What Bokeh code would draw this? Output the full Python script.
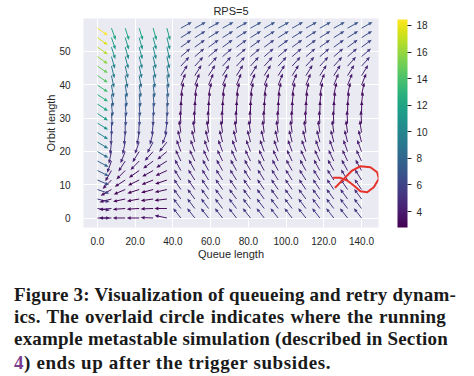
import math
from bokeh.plotting import figure
from bokeh.models import (ColumnDataSource, LinearColorMapper, ColorBar, FixedTicker,
                          PrintfTickFormatter, Div, Range1d)
from bokeh.layouts import column
from bokeh.palettes import Viridis256
from bokeh.transform import transform
from bokeh.embed import file_html
from bokeh.resources import INLINE

# ---------------- data ----------------
title_text = "RPS=5"
x_label = "Queue length"
y_label = "Orbit length"
x_ticks = [0, 20, 40, 60, 80, 100, 120, 140]
y_ticks = [0, 10, 20, 30, 40, 50]
cbar_ticks = [4, 6, 8, 10, 12, 14, 16, 18]
mag_low, mag_high = 2.8, 18.45

grid_x = [0.0, 7.4, 14.7, 22.1, 29.5, 36.8, 44.2, 51.6, 58.9, 66.3, 73.7, 81.1,
          88.4, 95.8, 103.2, 110.5, 117.9, 125.3, 132.6, 140.0]
grid_y = [0.0, 2.85, 5.7, 8.55, 11.4, 14.25, 17.1, 19.95, 22.8, 25.65, 28.5,
          31.35, 34.2, 37.05, 39.9, 42.75, 45.6, 48.45, 51.3, 54.15, 57.0]

# direction (degrees, screen) of arrows in the six left columns, bottom row first
left_angle = [
    [0, -8, -14, -19, -23, -26, -28, -30, -31, -32, -32, -33, -33, -33, -34, -34, -34, -35, -35, -35, -35],
    [180, 185, 195, 210, 225, 240, 250, 258, 264, 268, 271, 274, 276, 278, 280, 282, 284, 286, 288, 289, 290],
    [180, 184, 192, 203, 213, 225, 237, 248, 258, 265, 270, 273, 275, 277, 279, 281, 283, 285, 286, 287, 288],
    [180, 183, 190, 198, 206, 215, 226, 238, 250, 260, 268, 272, 274, 276, 278, 280, 282, 284, 285, 286, 287],
    [178, 182, 188, 195, 202, 209, 217, 228, 242, 255, 265, 270, 273, 275, 277, 279, 281, 283, 284, 285, 286],
    [168, 180, 187, 193, 199, 205, 212, 220, 232, 248, 262, 269, 272, 274, 276, 278, 280, 282, 283, 284, 285],
]
left_mag = [
    [4.0, 4.5, 5.2, 5.9, 6.6, 7.3, 8.0, 8.7, 9.4, 10.1, 10.8, 11.5, 12.2, 12.9, 13.6, 14.3, 15.0, 15.8, 16.7, 17.6, 18.45],
    [3.4, 3.3, 3.3, 3.4, 3.6, 3.9, 4.3, 4.7, 5.1, 5.6, 6.1, 6.6, 7.1, 7.7, 8.3, 8.9, 9.5, 10.1, 10.8, 11.5, 12.2],
    [3.3, 3.1, 3.0, 3.1, 3.3, 3.6, 4.0, 4.4, 4.9, 5.4, 5.9, 6.4, 6.9, 7.5, 8.1, 8.7, 9.3, 9.9, 10.6, 11.3, 12.0],
    [3.3, 3.0, 2.9, 2.9, 3.1, 3.4, 3.8, 4.2, 4.7, 5.2, 5.7, 6.2, 6.8, 7.4, 8.0, 8.6, 9.2, 9.8, 10.5, 11.2, 11.9],
    [3.4, 3.0, 2.8, 2.9, 3.0, 3.3, 3.7, 4.1, 4.6, 5.1, 5.6, 6.1, 6.7, 7.3, 7.9, 8.5, 9.1, 9.7, 10.4, 11.1, 11.8],
    [3.6, 3.2, 3.0, 3.0, 3.1, 3.3, 3.6, 4.0, 4.5, 5.0, 5.5, 6.0, 6.6, 7.2, 7.8, 8.4, 9.0, 9.6, 10.3, 11.0, 11.7],
]
# the fourteen right columns share one direction / magnitude per row
right_angle = [128, 127, 126, 124, 122, 119, 115, 110, 104, 98, 93, 89, 84, 77, 68, 58, 48, 41, 36, 32, 29]
right_mag = [5.4, 5.2, 5.0, 4.8, 4.6, 4.4, 4.2, 4.0, 3.8, 3.6, 3.4, 3.3, 3.3, 3.5, 3.9, 4.4, 5.0, 5.6, 6.1, 6.5, 6.9]

# hand-drawn red loop overlay
loop_x = [126.2, 130.6, 135.0, 139.4, 144.7, 148.3, 149.2, 146.5, 143.0, 139.4, 135.9, 132.4, 128.8, 125.3]
loop_y = [9.24, 11.76, 14.25, 15.54, 15.24, 13.74, 11.76, 9.24, 7.74, 8.04, 9.75, 11.25, 12.06, 12.06]

caption_lines = [
    "Figure 3: Visualization of queueing and retry dynam-",
    "ics. The overlaid circle indicates where the running",
    "example metastable simulation (described in Section",
    "4) ends up after the trigger subsides.",
]

# ---------------- figure ----------------
FW, FH = 295, 209
x0r, x1r = -7.42, 149.0
y0r, y1r = -2.85, 59.9
FONT = "Liberation Sans"
TXT = "#262626"

p = figure(frame_width=FW, frame_height=FH, x_range=Range1d(x0r, x1r), y_range=Range1d(y0r, y1r),
           output_backend="svg", toolbar_location=None, title=title_text,
           min_border_left=83, min_border_right=88, min_border_top=18, min_border_bottom=40)
p.title.align = "center"
p.title.text_font = FONT
p.title.text_font_size = "11px"
p.title.text_font_style = "normal"
p.title.text_color = TXT
p.title.standoff = 4
p.title.offset = 0
p.background_fill_color = "#EAEAF2"
p.border_fill_color = "white"
p.outline_line_color = None

for g, t in ((p.xgrid, x_ticks), (p.ygrid, y_ticks)):
    g.ticker = FixedTicker(ticks=t)
    g.grid_line_color = "white"
    g.grid_line_width = 1

p.xaxis.ticker = FixedTicker(ticks=x_ticks)
p.yaxis.ticker = FixedTicker(ticks=y_ticks)
p.xaxis.formatter = PrintfTickFormatter(format="%.1f")
for ax in (p.xaxis, p.yaxis):
    ax.axis_line_color = None
    ax.major_tick_line_color = None
    ax.minor_tick_line_color = None
    ax.major_label_text_font = FONT
    ax.major_label_text_font_size = "10px"
    ax.major_label_text_color = TXT
    ax.axis_label_text_font = FONT
    ax.axis_label_text_font_size = "11px"
    ax.axis_label_text_font_style = "normal"
    ax.axis_label_text_color = TXT
p.xaxis.major_label_standoff = 3
p.yaxis.major_label_standoff = 7
p.xaxis.axis_label = x_label
p.yaxis.axis_label = y_label
p.xaxis.axis_label_standoff = 0
p.yaxis.axis_label_standoff = -1

mapper = LinearColorMapper(palette=Viridis256, low=mag_low, high=mag_high)

# build arrows
kx = FW / (x1r - x0r)
ky = FH / (y1r - y0r)
L, HL, HW = 12.5, 4.0, 3.4
sx0, sy0, sx1, sy1, smag = [], [], [], [], []
hxs, hys, hmag = [], [], []
for ci, gx in enumerate(grid_x):
    for ri, gy in enumerate(grid_y):
        if ci < 6:
            ang, m = left_angle[ci][ri], left_mag[ci][ri]
        else:
            ang, m = right_angle[ri], right_mag[ri]
        th = math.radians(ang)
        ux, uy = math.cos(th), math.sin(th)
        tipx, tipy = gx + L * ux / kx, gy + L * uy / ky
        bx, by = gx + (L - HL) * ux / kx, gy + (L - HL) * uy / ky
        px_, py_ = -uy * HW / 2, ux * HW / 2
        sx0.append(gx); sy0.append(gy); sx1.append(bx + 0.3 * ux / kx); sy1.append(by + 0.3 * uy / ky); smag.append(m)
        hxs.append([tipx, bx + px_ / kx, bx - px_ / kx])
        hys.append([tipy, by + py_ / ky, by - py_ / ky])
        hmag.append(m)

shaft_src = ColumnDataSource(dict(x0=sx0, y0=sy0, x1=sx1, y1=sy1, mag=smag))
head_src = ColumnDataSource(dict(xs=hxs, ys=hys, mag=hmag))
p.segment("x0", "y0", "x1", "y1", source=shaft_src, line_color=transform("mag", mapper), line_width=1.0)
p.patches("xs", "ys", source=head_src, fill_color=transform("mag", mapper), line_color=None)

p.line(loop_x, loop_y, line_color="#e5322a", line_width=2.0, line_join="round", line_cap="round")

cb = ColorBar(color_mapper=mapper, ticker=FixedTicker(ticks=cbar_ticks), width=10, height=208,
              padding=0, margin=0, location=(19, 0), bar_line_color=None,
              major_tick_out=4, major_tick_in=0, major_tick_line_color=TXT, minor_tick_line_color=None,
              label_standoff=5, major_label_text_font=FONT, major_label_text_font_size="10px",
              major_label_text_color=TXT, background_fill_color=None, border_line_color=None)
p.add_layout(cb, "right")

# ---------------- caption ----------------
base = ("font-family:'Liberation Serif';font-weight:bold;font-size:19px;color:#1a1a1a;"
        "white-space:nowrap;")
just = "text-align:justify;text-align-last:justify;line-height:22px;letter-spacing:0.2px;"
last_txt = caption_lines[3].replace("4)", "<span style='color:#7a3b8f'>4</span>)", 1)
html = ("<div style=\"padding:12px 4px 0 9px;width:445px;\">"
        f"<div style=\"{base}{just}\">{caption_lines[0]}</div>"
        f"<div style=\"{base}{just}\">{caption_lines[1]}</div>"
        f"<div style=\"{base}{just}\">{caption_lines[2]}</div>"
        f"<div style=\"{base}line-height:6px;padding-top:9.5px;letter-spacing:0.6px;\">{last_txt}</div>"
        "</div>")
cap = Div(text=html, width=458)

layout = column(p, cap)
open("out.html", "w").write(file_html(layout, INLINE))
